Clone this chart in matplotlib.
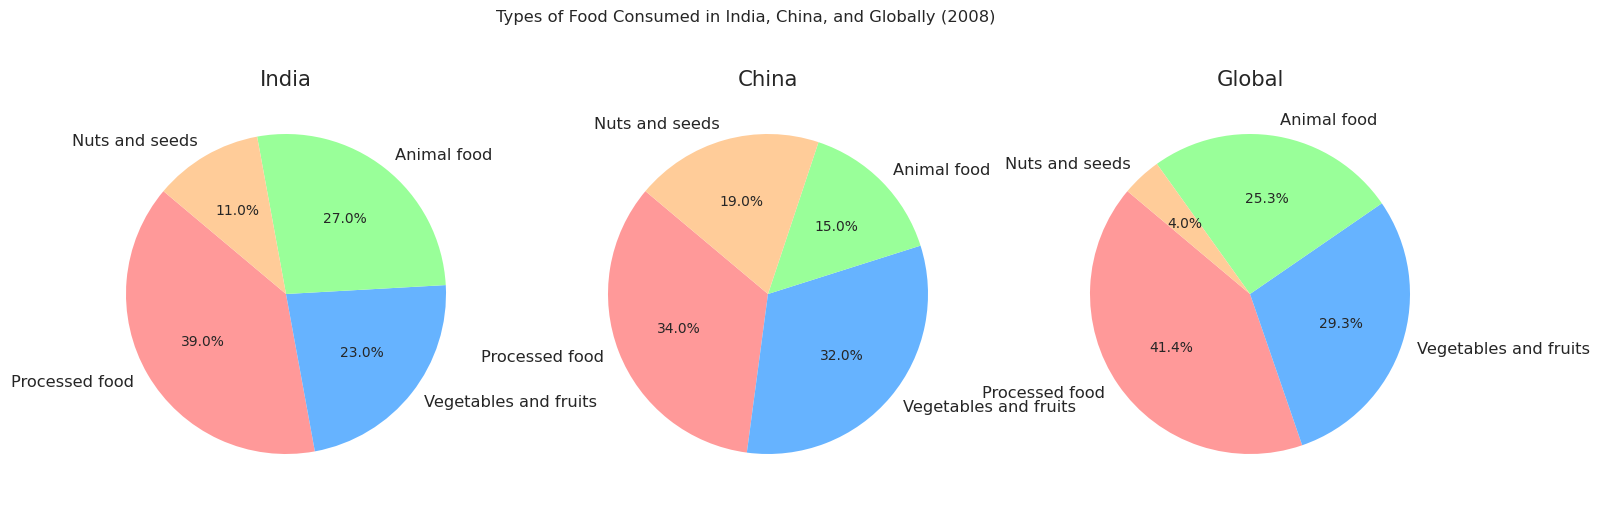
import matplotlib
matplotlib.use("Agg")
import matplotlib.pyplot as plt

categories = ["Processed food", "Vegetables and fruits", "Animal food", "Nuts and seeds"]
regions = ["India", "China", "Global"]
india = [39.0, 23.0, 27.0, 11.0]
china = [34.0, 32.0, 15.0, 19.0]
global_ = [41.4, 29.3, 25.3, 4.0]
colors = ["#ff9999", "#66b3ff", "#99ff99", "#ffcc99"]

plt.rcParams['text.color'] = '#262626'

W, H = 1600, 505
fig = plt.figure(figsize=(W / 100, H / 100), dpi=100)
fig.suptitle("Types of Food Consumed in India, China, and Globally (2008)", fontsize=11.8,
             x=746 / W)

R = 160
centers_x = [286, 768, 1250]
cy = 294
side = 2.5 * R
for cx, name, vals in zip(centers_x, regions, [india, china, global_]):
    ax = fig.add_axes([(cx - side / 2) / W, (H - cy - side / 2) / H, side / W, side / H])
    ax.pie(vals, labels=categories, colors=colors, autopct='%1.1f%%', startangle=140,
           textprops={'fontsize': 11.7})
    for t in ax.texts:
        if t.get_text().endswith('%'):
            t.set_fontsize(10)
    ax.set_title(name, fontsize=15.3)
    ax.set_aspect('equal')

fig.savefig("out.png", dpi=100)
